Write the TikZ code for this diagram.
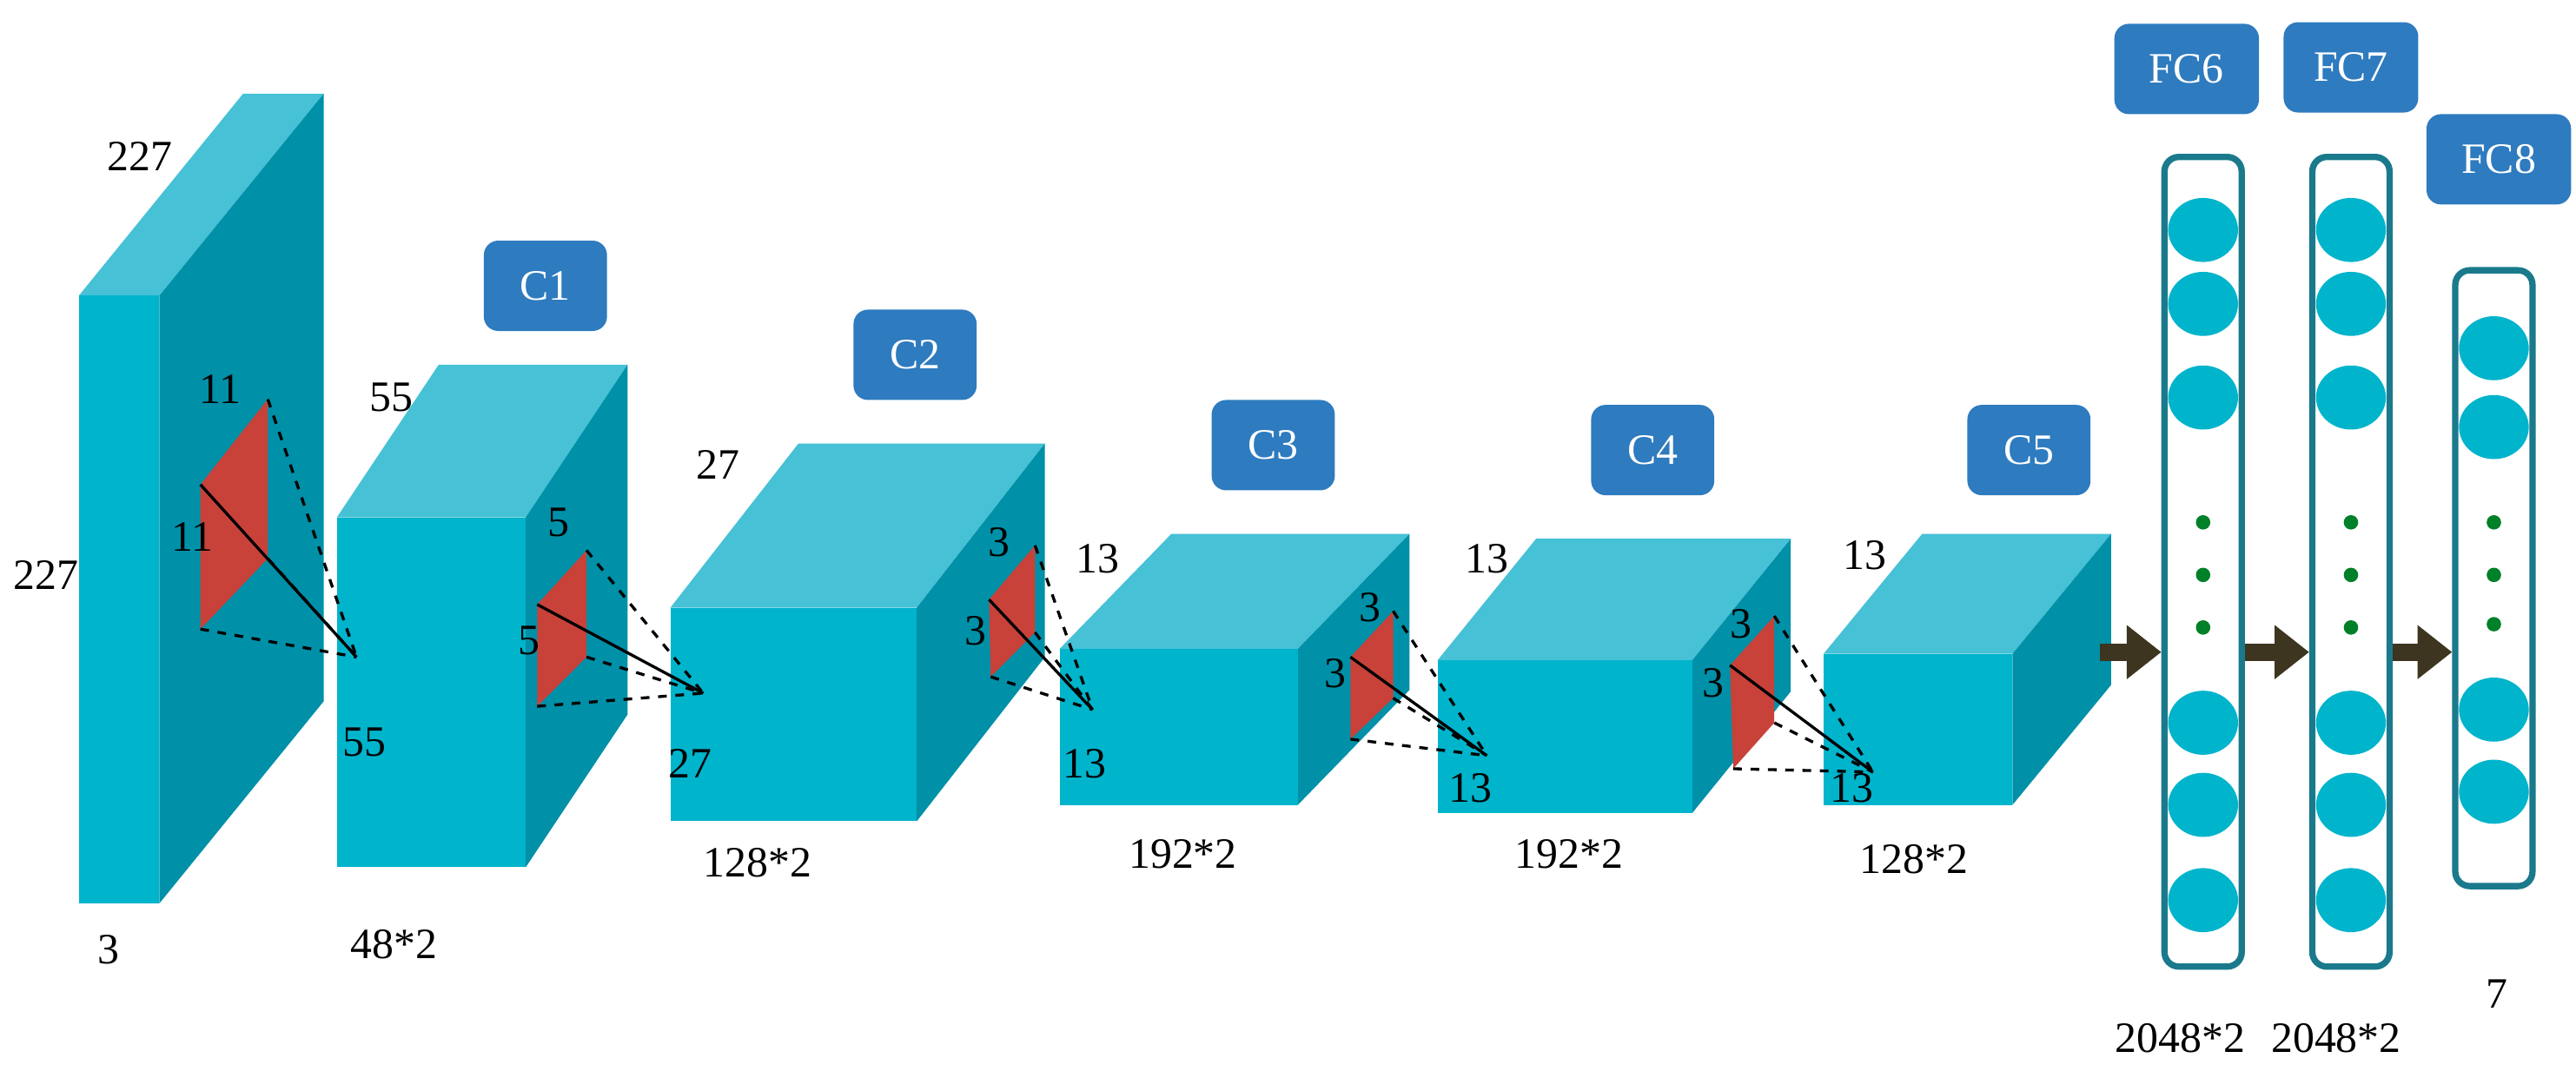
\documentclass[tikz,border=0pt]{standalone}
\usepackage{fontspec}
\setmainfont{Liberation Serif}
\usetikzlibrary{arrows.meta,shapes.geometric,calc}
\definecolor{cfront}{RGB}{0,180,204}
\definecolor{ctop}{RGB}{70,193,214}
\definecolor{cside}{RGB}{0,144,168}
\definecolor{cred}{RGB}{200,66,58}
\definecolor{cbox}{RGB}{46,123,191}
\definecolor{cfc}{RGB}{26,122,140}
\definecolor{carrow}{RGB}{61,53,32}
\definecolor{cdot}{RGB}{0,128,40}
% cuboid: x1,y1 front top-left; x2,y2 front bottom-right; dx,dy
\newcommand\mycub[6]{%
 \fill[ctop] (#1,#2) -- ++(#5,#6) -- ($(#3,#2)+(#5,#6)$) -- (#3,#2) -- cycle;
 \fill[cside] (#3,#2) -- ++(#5,#6) -- ($(#3,#4)+(#5,#6)$) -- (#3,#4) -- cycle;
 \fill[cfront] (#1,#2) rectangle (#3,#4);}
% patch: 4 corners (ul,ur,lr,ll) and apex
\newcommand\mypatch[5]{%
 \fill[cred] #1 -- #2 -- #3 -- #4 -- cycle;
 \draw[sl] #1 -- #5;
 \draw[dl] #2 -- #5;
 \draw[dl] #3 -- #5;
 \draw[dl] #4 -- #5;}
\begin{document}
\begin{tikzpicture}[x=0.02cm,y=-0.02cm,
 lbl/.style={font=\fontsize{15}{15}\selectfont,inner sep=0pt},
 tag/.style={fill=cbox,rounded corners=5pt,text=white,font=\fontsize{15}{15}\selectfont,minimum width=1.5cm,minimum height=1.1cm,inner sep=0pt},
 fcbox/.style={draw=cfc,line width=2.2pt,rounded corners=5pt,fill=white},
 neuron/.style={fill=cfront,ellipse,minimum width=0.85cm,minimum height=0.78cm,inner sep=0pt},
 dotn/.style={circle,fill=cdot,inner sep=0pt,minimum size=5pt},
 dl/.style={dashed,line width=1pt},
 sl/.style={line width=1pt},
 fat/.style={line width=6pt,draw=carrow,-{Triangle[length=12pt,width=18pt]}}]
\useasboundingbox (0,0) rectangle (1568,656);
% blocks
\mycub{48}{180}{97}{550}{100}{-123}
\mycub{205}{315}{320}{528}{62}{-93}
\mycub{408}{370}{558}{500}{78}{-100}
\mycub{645}{395}{790}{490}{68}{-70}
\mycub{875}{402}{1030}{495}{60}{-74}
\mycub{1110}{398}{1225}{490}{60}{-73}
% patches
\coordinate (a1) at (217,400);
\coordinate (a2) at (428,422);
\coordinate (a3) at (665,432);
\coordinate (a4) at (905,460);
\coordinate (a5) at (1140,470);
\mypatch{(122,295)}{(163,243)}{(163,340)}{(122,383)}{(a1)}
\mypatch{(327,368)}{(357,335)}{(357,400)}{(327,430)}{(a2)}
\mypatch{(602,365)}{(630,332)}{(630,385)}{(603,412)}{(a3)}
\mypatch{(822,400)}{(848,372)}{(848,425)}{(822,450)}{(a4)}
\mypatch{(1053,405)}{(1080,375)}{(1080,440)}{(1055,468)}{(a5)}
% labels
\node[lbl] (t1) at (85,95) {227};
\node[lbl] (t2) at (28,350) {227};
\node[lbl] (t3) at (66,578) {3};
\node[lbl] (t4) at (134,237) {11};
\node[lbl] (t5) at (117,327) {11};
\node[lbl] (t6) at (238,242) {55};
\node[lbl] (t7) at (222,452) {55};
\node[lbl] (t8) at (240,575) {48*2};
\node[lbl] (t9) at (340,318) {5};
\node[lbl] (t10) at (322,390) {5};
\node[lbl] (t11) at (437,283) {27};
\node[lbl] (t12) at (420,465) {27};
\node[lbl] (t13) at (461,525) {128*2};
\node[lbl] (t14) at (608,330) {3};
\node[lbl] (t15) at (594,384) {3};
\node[lbl] (t16) at (668,340) {13};
\node[lbl] (t17) at (660,465) {13};
\node[lbl] (t18) at (720,520) {192*2};
\node[lbl] (t19) at (834,370) {3};
\node[lbl] (t20) at (813,410) {3};
\node[lbl] (t21) at (905,340) {13};
\node[lbl] (t22) at (895,480) {13};
\node[lbl] (t23) at (955,520) {192*2};
\node[lbl] (t24) at (1060,380) {3};
\node[lbl] (t25) at (1043,416) {3};
\node[lbl] (t26) at (1135,338) {13};
\node[lbl] (t27) at (1127,480) {13};
\node[lbl] (t28) at (1165,523) {128*2};
% tags
\node[tag] (c1) at (332,174) {C1};
\node[tag] (c2) at (557,216) {C2};
\node[tag] (c3) at (775,271) {C3};
\node[tag] (c4) at (1006,274) {C4};
\node[tag] (c5) at (1235,274) {C5};
\node[tag,minimum width=1.76cm] (f6) at (1331,42) {FC6};
\node[tag,minimum width=1.64cm] (f7) at (1431,41) {FC7};
\node[tag,minimum width=1.76cm] (f8) at (1521,97) {FC8};
% FC columns
\node[fcbox,minimum width=0.94cm,minimum height=9.86cm,inner sep=0pt] (l6) at (1341,342) {};
\node[fcbox,minimum width=0.94cm,minimum height=9.86cm,inner sep=0pt] (l7) at (1431,342) {};
\node[fcbox,minimum width=0.94cm,minimum height=7.5cm,inner sep=0pt] (l8) at (1518,352) {};
\foreach \c/\x in {6/1341,7/1431}{
 \foreach \i/\y in {1/140,2/185,3/242,4/440,5/490,6/548}
   \node[neuron] (n\c\i) at (\x,\y) {};
 \foreach \i/\y in {1/318,2/350,3/382}
   \node[dotn] (d\c\i) at (\x,\y) {};
}
\foreach \i/\y in {1/212,2/260,3/432,4/482}
  \node[neuron] (n8\i) at (1518,\y) {};
\foreach \i/\y in {1/318,2/350,3/380}
  \node[dotn] (d8\i) at (1518,\y) {};
\node[lbl] (b6) at (1327,632) {2048*2};
\node[lbl] (b7) at (1422,632) {2048*2};
\node[lbl] (b8) at (1520,605) {7};
% arrows
\coordinate (s1) at (1278,397);
\draw[fat] (s1) -- (l6.west|-s1);
\draw[fat] (l6.east|-s1) -- (l7.west|-s1);
\draw[fat] (l7.east|-s1) -- (l8.west|-s1);
\end{tikzpicture}
\end{document}
